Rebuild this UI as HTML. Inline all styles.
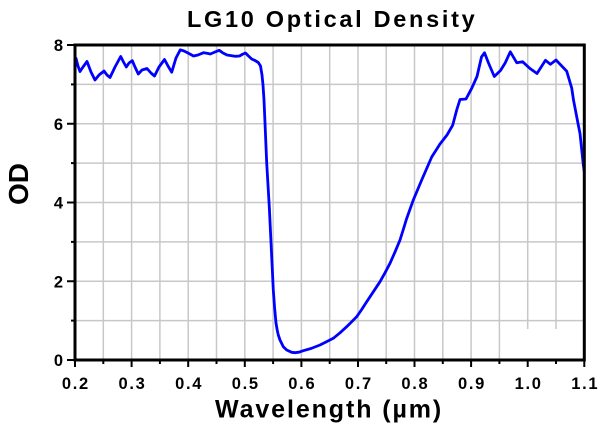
<!DOCTYPE html>
<html>
<head>
<meta charset="utf-8">
<style>
  html,body{margin:0;padding:0;background:#fff;}
  svg{display:block;}
  text{font-family:"Liberation Sans","DejaVu Sans",sans-serif;font-weight:bold;fill:#000;}
</style>
</head>
<body>
<svg width="600" height="427" viewBox="0 0 600 427" xmlns="http://www.w3.org/2000/svg">
  <rect width="600" height="427" fill="#fff"/>
  <!-- grid -->
  <g stroke="#c8c8c8" stroke-width="1.5">
    <line x1="103.3" y1="45" x2="103.3" y2="360"/>
    <line x1="131.6" y1="45" x2="131.6" y2="360"/>
    <line x1="159.9" y1="45" x2="159.9" y2="360"/>
    <line x1="188.2" y1="45" x2="188.2" y2="360"/>
    <line x1="216.5" y1="45" x2="216.5" y2="360"/>
    <line x1="244.8" y1="45" x2="244.8" y2="360"/>
    <line x1="273.1" y1="45" x2="273.1" y2="360"/>
    <line x1="301.4" y1="45" x2="301.4" y2="360"/>
    <line x1="329.7" y1="45" x2="329.7" y2="360"/>
    <line x1="358.0" y1="45" x2="358.0" y2="360"/>
    <line x1="386.2" y1="45" x2="386.2" y2="360"/>
    <line x1="414.5" y1="45" x2="414.5" y2="360"/>
    <line x1="442.8" y1="45" x2="442.8" y2="360"/>
    <line x1="471.1" y1="45" x2="471.1" y2="360"/>
    <line x1="499.4" y1="45" x2="499.4" y2="360"/>
    <line x1="527.7" y1="45" x2="527.7" y2="329"/>
    <line x1="556.0" y1="45" x2="556.0" y2="329"/>
    <line x1="75" y1="320.6" x2="584.3" y2="320.6"/>
    <line x1="75" y1="281.25" x2="584.3" y2="281.25"/>
    <line x1="75" y1="241.9" x2="584.3" y2="241.9"/>
    <line x1="75" y1="202.5" x2="584.3" y2="202.5"/>
    <line x1="75" y1="163.1" x2="584.3" y2="163.1"/>
    <line x1="75" y1="123.75" x2="584.3" y2="123.75"/>
    <line x1="75" y1="84.4" x2="584.3" y2="84.4"/>
  </g>

  <!-- curve -->
  <polyline fill="none" stroke="#0000ff" stroke-width="2.8" stroke-linejoin="round" stroke-linecap="round"
    points="76,58.3 78,66 80,71.5 83,67 87,61.5 91,72 95,80 99,75 104,71 107,75 110,77.5 115,67 120.7,56.5 123.5,62 126.3,67 129,63 132.3,60.7 135,67 138.3,74 142,70 147,68.5 151,73 154.5,76 159,67 164.5,59.5 168,66 171.7,72.2 176,58 180.3,49.8 184,51 188,53 193.5,56 198,55 203.5,52.7 207,53.3 210.3,54 215,52 219.2,50.3 223,53 227,55 235,56.3 239.5,56 243,54 245.5,53 248.5,56 251.7,59 255,60.5 258.3,62.5 260.5,66 262,75 263,85 264,100 265,123 266.7,163 269.3,207 271.7,256.7 273.3,290 274.6,308 276,323 277.2,330 278.3,335 280,340 283.3,346.7 286.7,350 291.7,352.3 295,352.7 299,352.2 303.3,350.7 311,348.5 320,345 326.5,341.8 333.3,338.3 340,332.8 346.7,326.7 351.7,321.8 356.7,316.7 361.7,309.5 366.7,301.7 373.3,291.8 380,281.7 385,272.8 390,263.3 395,252 400,240 403.3,229.5 406.5,219 413.3,200 421.7,180 431.7,157 440,144 447,135 452.7,125.2 456.7,110 460,99.5 466,99 471.7,88.3 477,76.5 481.5,57 484.5,52.8 488.5,63 494.3,76.5 500.5,70.5 505,63.3 510.3,51.8 516.8,62.8 522.7,61.8 530,68.5 537,73.5 545.5,60.3 550.4,64.3 556,60 566.7,71.2 571.7,88 573.5,100 578.3,125 580,133.5 583.3,164.7 584.3,172"/>

  <!-- frame -->
  <rect x="75" y="45" width="509.3" height="315" fill="none" stroke="#000" stroke-width="3"/>

  <!-- ticks -->
  <g stroke="#000" stroke-width="2">
    <line x1="67" y1="45" x2="75" y2="45"/>
    <line x1="71" y1="84.4" x2="75" y2="84.4"/>
    <line x1="67" y1="123.75" x2="75" y2="123.75"/>
    <line x1="71" y1="163.1" x2="75" y2="163.1"/>
    <line x1="67" y1="202.5" x2="75" y2="202.5"/>
    <line x1="71" y1="241.9" x2="75" y2="241.9"/>
    <line x1="67" y1="281.25" x2="75" y2="281.25"/>
    <line x1="71" y1="320.6" x2="75" y2="320.6"/>
    <line x1="67" y1="360" x2="75" y2="360"/>

    <line x1="75" y1="360" x2="75" y2="367"/>
    <line x1="103.3" y1="360" x2="103.3" y2="364"/>
    <line x1="131.6" y1="360" x2="131.6" y2="367"/>
    <line x1="159.9" y1="360" x2="159.9" y2="364"/>
    <line x1="188.2" y1="360" x2="188.2" y2="367"/>
    <line x1="216.5" y1="360" x2="216.5" y2="364"/>
    <line x1="244.8" y1="360" x2="244.8" y2="367"/>
    <line x1="273.1" y1="360" x2="273.1" y2="364"/>
    <line x1="301.4" y1="360" x2="301.4" y2="367"/>
    <line x1="329.7" y1="360" x2="329.7" y2="364"/>
    <line x1="358.0" y1="360" x2="358.0" y2="367"/>
    <line x1="386.2" y1="360" x2="386.2" y2="364"/>
    <line x1="414.5" y1="360" x2="414.5" y2="367"/>
    <line x1="442.8" y1="360" x2="442.8" y2="364"/>
    <line x1="471.1" y1="360" x2="471.1" y2="367"/>
    <line x1="499.4" y1="360" x2="499.4" y2="364"/>
    <line x1="527.7" y1="360" x2="527.7" y2="367"/>
    <line x1="556.0" y1="360" x2="556.0" y2="364"/>
    <line x1="584.3" y1="360" x2="584.3" y2="367"/>
  </g>

  <!-- y tick labels -->
  <g font-size="16.5" text-anchor="end">
    <text x="63" y="51">8</text>
    <text x="63" y="129.75">6</text>
    <text x="63" y="208.5">4</text>
    <text x="63" y="287.25">2</text>
    <text x="63" y="366">0</text>
  </g>

  <!-- x tick labels -->
  <g font-size="16.5" letter-spacing="1.7">
    <text x="61.9" y="389">0.2</text>
    <text x="118.5" y="389">0.3</text>
    <text x="175.1" y="389">0.4</text>
    <text x="231.7" y="389">0.5</text>
    <text x="288.3" y="389">0.6</text>
    <text x="344.9" y="389">0.7</text>
    <text x="401.4" y="389">0.8</text>
    <text x="458.0" y="389">0.9</text>
    <text x="514.6" y="389">1.0</text>
    <text x="571.2" y="389">1.1</text>
  </g>

  <!-- title -->
  <text x="187" y="27" font-size="23.5" letter-spacing="2.7">LG10 Optical Density</text>

  <!-- axis titles -->
  <text x="215" y="417.5" font-size="25" letter-spacing="1.9">Wavelength (µm)</text>
  <text transform="translate(28,184) rotate(-90)" font-size="28" text-anchor="middle">OD</text>
</svg>
</body>
</html>
